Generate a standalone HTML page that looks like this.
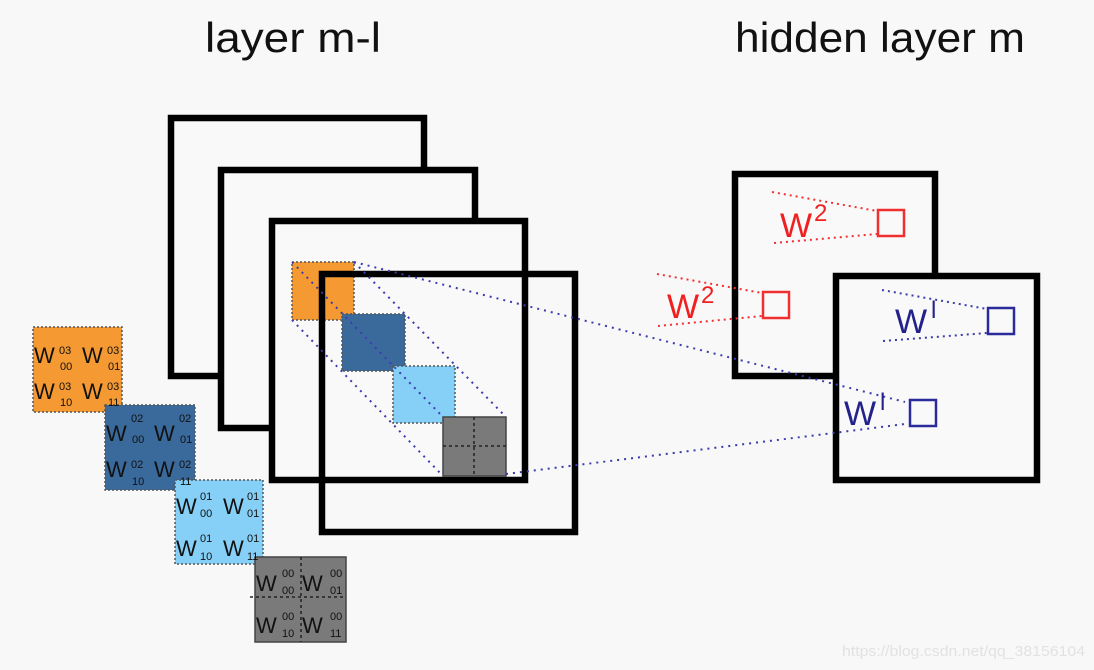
<!DOCTYPE html>
<html><head><meta charset="utf-8"><style>
html,body{margin:0;padding:0;background:#f8f8f8;}
svg{display:block;}
text{font-family:"Liberation Sans",sans-serif;}
</style></head><body>
<svg width="1094" height="670" viewBox="0 0 1094 670" xmlns="http://www.w3.org/2000/svg">
<rect width="1094" height="670" fill="#f8f8f8"/>
<text x="205" y="52" font-size="42" textLength="176" lengthAdjust="spacingAndGlyphs" fill="#111">layer m-l</text>
<text x="735" y="52" font-size="42" textLength="290" lengthAdjust="spacingAndGlyphs" fill="#111">hidden layer m</text>

<g stroke="#000" stroke-width="6.5" fill="#f9f9f9">
<rect x="171" y="118" width="253" height="258"/>
<rect x="221" y="170" width="254" height="258"/>
<rect x="272" y="221" width="253" height="259"/>
</g>
<g stroke="#555" stroke-width="1.5" stroke-dasharray="2,2">
<rect x="292" y="262" width="62" height="58" fill="#f59a32"/>
<rect x="342" y="314" width="63" height="57" fill="#3a6a9c"/>
<rect x="393" y="366" width="62" height="57" fill="#86d0f7"/>
</g>
<rect x="443" y="417" width="63" height="59" fill="#7a7a7a" stroke="#444" stroke-width="1.5"/>
<g stroke="#222" stroke-width="1.5" stroke-dasharray="3,3">
<line x1="474" y1="417" x2="474" y2="476"/><line x1="443" y1="446" x2="506" y2="446"/>
</g>
<rect x="322" y="274" width="253" height="258" fill="none" stroke="#000" stroke-width="6.5"/>
<g stroke="#3b3bb0" stroke-width="2" stroke-dasharray="2,5" fill="none">
<line x1="292" y1="320" x2="443" y2="476"/>
<line x1="354" y1="262" x2="506" y2="417"/>
<line x1="292" y1="262" x2="443" y2="417"/>
</g>

<rect x="735" y="174" width="200" height="202" fill="#f9f9f9" stroke="#000" stroke-width="6.5"/>
<rect x="836" y="276" width="201" height="204" fill="#f9f9f9" stroke="#000" stroke-width="6.5"/>
<g stroke="#3b3bb0" stroke-width="2" stroke-dasharray="2,5" fill="none">
<line x1="354" y1="262" x2="905" y2="402"/>
<line x1="506" y1="474" x2="905" y2="424"/>
</g>
<g stroke="#f03030" stroke-width="2" stroke-dasharray="2,4" fill="none">
<line x1="772" y1="192" x2="877" y2="211"/><line x1="774" y1="243" x2="877" y2="234"/>
<line x1="657" y1="274" x2="762" y2="293"/><line x1="658" y1="326" x2="762" y2="316"/>
</g>
<g fill="none" stroke="#f03030" stroke-width="2.5">
<rect x="878" y="210" width="26" height="26"/><rect x="763" y="292" width="26" height="26"/>
</g>
<g stroke="#3b3bb0" stroke-width="2" stroke-dasharray="2,4" fill="none">
<line x1="882" y1="290" x2="987" y2="309"/><line x1="883" y1="341" x2="987" y2="333"/>
</g>
<g fill="none" stroke="#2a2a9a" stroke-width="2.5">
<rect x="988" y="308" width="26" height="26"/><rect x="910" y="400" width="26" height="26"/>
</g>
<g font-size="34" fill="#f02020">
<text x="780" y="237">W</text><text x="814" y="221" font-size="24">2</text>
<text x="667" y="318">W</text><text x="701" y="303" font-size="24">2</text>
</g>
<g font-size="34" fill="#22228a">
<text x="895" y="333">W</text><text x="931" y="318" font-size="24">l</text>
<text x="844" y="425">W</text><text x="880" y="410" font-size="24">l</text>
</g>

<g stroke="#555" stroke-width="1.5" stroke-dasharray="2,2">
<rect x="33" y="327" width="89" height="85" fill="#f59a32"/>
<rect x="105" y="405" width="90" height="85" fill="#3a6a9c"/>
<rect x="175" y="480" width="88" height="84" fill="#86d0f7"/>
</g>
<rect x="255" y="557" width="91" height="85" fill="#7a7a7a" stroke="#444" stroke-width="1.5"/>
<g stroke="#222" stroke-width="1.5" stroke-dasharray="3,3">
<line x1="301" y1="557" x2="301" y2="642"/><line x1="250" y1="597" x2="346" y2="597"/>
</g>
<g font-size="22" fill="#111">
<text x="34" y="363">W</text><text x="59" y="354" font-size="11">03</text><text x="60" y="370" font-size="11">00</text>
<text x="82" y="363">W</text><text x="107" y="354" font-size="11">03</text><text x="108" y="370" font-size="11">01</text>
<text x="34" y="399">W</text><text x="59" y="390" font-size="11">03</text><text x="60" y="406" font-size="11">10</text>
<text x="82" y="399">W</text><text x="107" y="390" font-size="11">03</text><text x="108" y="406" font-size="11">11</text>

<text x="106" y="441">W</text><text x="131" y="422" font-size="11">02</text><text x="132" y="443" font-size="11">00</text>
<text x="154" y="441">W</text><text x="179" y="422" font-size="11">02</text><text x="180" y="443" font-size="11">01</text>
<text x="106" y="477">W</text><text x="131" y="468" font-size="11">02</text><text x="132" y="485" font-size="11">10</text>
<text x="154" y="477">W</text><text x="179" y="468" font-size="11">02</text><text x="180" y="485" font-size="11">11</text>

<text x="176" y="514">W</text><text x="200" y="500" font-size="11">01</text><text x="200" y="517" font-size="11">00</text>
<text x="223" y="514">W</text><text x="247" y="500" font-size="11">01</text><text x="247" y="517" font-size="11">01</text>
<text x="176" y="556">W</text><text x="200" y="542" font-size="11">01</text><text x="200" y="560" font-size="11">10</text>
<text x="223" y="556">W</text><text x="247" y="542" font-size="11">01</text><text x="247" y="560" font-size="11">11</text>

<text x="256" y="591">W</text><text x="282" y="577" font-size="11">00</text><text x="282" y="594" font-size="11">00</text>
<text x="302" y="591">W</text><text x="330" y="577" font-size="11">00</text><text x="330" y="594" font-size="11">01</text>
<text x="256" y="633">W</text><text x="282" y="620" font-size="11">00</text><text x="282" y="637" font-size="11">10</text>
<text x="302" y="633">W</text><text x="330" y="620" font-size="11">00</text><text x="330" y="637" font-size="11">11</text>
</g>

<text x="842" y="656" font-size="15" fill="#e2e2e2" textLength="243" lengthAdjust="spacingAndGlyphs">https://blog.csdn.net/qq_38156104</text>
</svg>
</body></html>
